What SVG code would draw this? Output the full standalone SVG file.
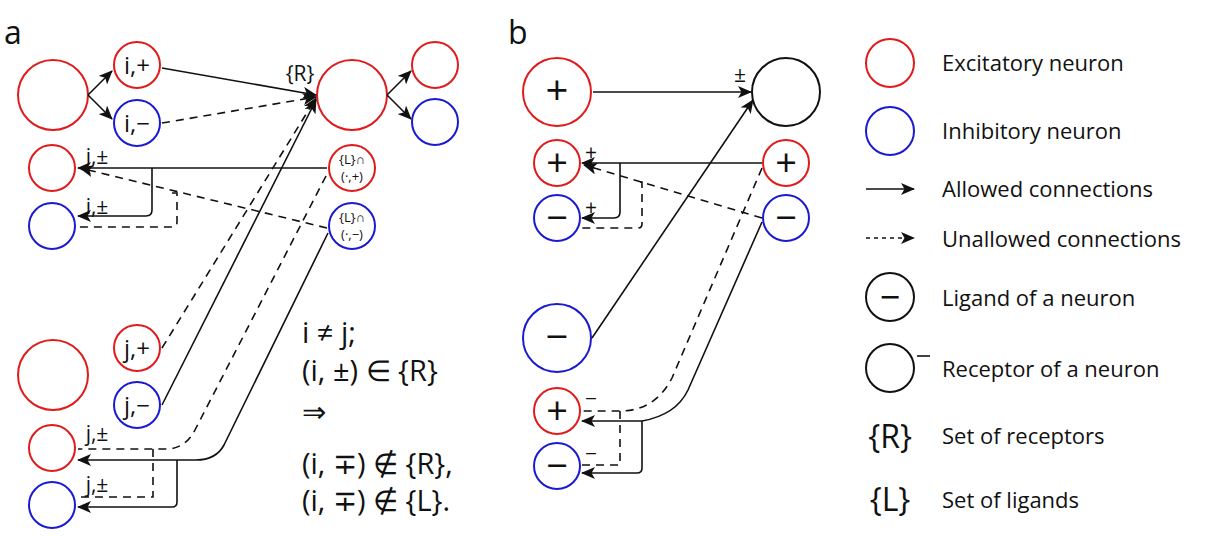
<svg xmlns="http://www.w3.org/2000/svg" width="1218" height="536" viewBox="0 0 1218 536">
<style>
text{font-family:"Open Sans","Noto Sans",sans-serif;fill:#111}
.e{fill:none;stroke:#e01b1b;stroke-width:2}
.i{fill:none;stroke:#1a1ad0;stroke-width:2}
.k{fill:none;stroke:#111;stroke-width:2}
.c{fill:none;stroke:#111;stroke-width:1.6}
.d{fill:none;stroke:#111;stroke-width:1.6;stroke-dasharray:8 6}
.n{font-size:24px}
.s{font-size:13px}
.lg{font-size:22px}
.f{font-size:29px}
.l{font-size:21px}
</style>
<defs>
<marker id="ah" viewBox="0 0 14 12" refX="13" refY="6" markerWidth="14" markerHeight="12" markerUnits="userSpaceOnUse" orient="auto">
<path d="M0,0 L14,6 L0,12 L3.5,6 Z" fill="#111"/>
</marker>
</defs>
<text x="4" y="44" font-size="32">a</text>
<text x="508" y="44" font-size="32">b</text>
<g id="a-nodes">
<g id="a1"><circle class="e" cx="53" cy="95" r="35"/></g>
<g id="aip"><circle class="e" cx="137" cy="65" r="23"/><text class="n" x="137" y="74" text-anchor="middle">i,+</text></g>
<g id="aim"><circle class="i" cx="137" cy="123" r="23"/><text class="n" x="137" y="132" text-anchor="middle">i,−</text></g>
<g id="a2"><circle class="e" cx="352" cy="95" r="35"/></g>
<g id="a2e"><circle class="e" cx="435" cy="65" r="23"/></g>
<g id="a2i"><circle class="i" cx="435" cy="122" r="23"/></g>
<g id="ale"><circle class="e" cx="52" cy="168" r="23"/></g>
<g id="ali"><circle class="i" cx="52" cy="226" r="23"/></g>
<g id="aLp"><circle class="e" cx="352" cy="168" r="23"/><text class="s" x="352" y="164" text-anchor="middle">{L}∩</text><text class="s" x="352" y="181" text-anchor="middle">(·,+)</text></g>
<g id="aLm"><circle class="i" cx="352" cy="226" r="23"/><text class="s" x="352" y="222" text-anchor="middle">{L}∩</text><text class="s" x="352" y="239" text-anchor="middle">(·,−)</text></g>
<g id="a3"><circle class="e" cx="53" cy="375" r="35"/></g>
<g id="ajp"><circle class="e" cx="137" cy="348" r="23"/><text class="n" x="137" y="357" text-anchor="middle">j,+</text></g>
<g id="ajm"><circle class="i" cx="137" cy="405" r="23"/><text class="n" x="137" y="414" text-anchor="middle">j,−</text></g>
<g id="ale2"><circle class="e" cx="52" cy="448" r="23"/></g>
<g id="ali2"><circle class="i" cx="52" cy="505" r="23"/></g>
</g>
<g id="b-nodes">
<g id="b1"><circle class="e" cx="557" cy="92" r="34"/><text x="557" y="105" font-size="40" text-anchor="middle">+</text></g>
<g id="b2"><circle class="k" cx="786" cy="92" r="34"/></g>
<g id="b3"><circle class="e" cx="557" cy="163" r="23"/><text x="557" y="176" font-size="38" text-anchor="middle">+</text></g>
<g id="b4"><circle class="i" cx="557" cy="218" r="23"/><text x="557" y="231" font-size="38" text-anchor="middle">−</text></g>
<g id="b5"><circle class="e" cx="786" cy="163" r="23"/><text x="786" y="176" font-size="38" text-anchor="middle">+</text></g>
<g id="b6"><circle class="i" cx="786" cy="218" r="23"/><text x="786" y="231" font-size="38" text-anchor="middle">−</text></g>
<g id="b7"><circle class="i" cx="557" cy="338" r="34"/><text x="557" y="351" font-size="40" text-anchor="middle">−</text></g>
<g id="b8"><circle class="e" cx="557" cy="411" r="23"/><text x="557" y="424" font-size="38" text-anchor="middle">+</text></g>
<g id="b9"><circle class="i" cx="557" cy="466" r="23"/><text x="557" y="479" font-size="38" text-anchor="middle">−</text></g>
</g>
<g id="connectors">
<path class="c" d="M88 95 L112 71" marker-end="url(#ah)"/>
<path class="c" d="M88 95 L112 119" marker-end="url(#ah)"/>
<path class="c" d="M387 95 L411 71" marker-end="url(#ah)"/>
<path class="c" d="M387 95 L411 119" marker-end="url(#ah)"/>
<path class="c" d="M162 68 L316 95" marker-end="url(#ah)"/>
<path class="d" d="M162 123 L316 97" marker-end="url(#ah)"/>
<path class="c" d="M327 168 L78 168" marker-end="url(#ah)"/>
<path class="c" d="M152 168 V210 Q152 216 146 216 H78" marker-end="url(#ah)"/>
<path class="d" d="M327 228 L80 168" marker-end="url(#ah)"/>
<path class="d" d="M172 193 H177 V222 Q177 227 172 227 H78"/>
<path class="d" d="M162 348 L316 98" marker-end="url(#ah)"/>
<path class="c" d="M162 405 L316 100" marker-end="url(#ah)"/>
<path class="d" d="M326 176 L196 428 Q186 449 166 449 H78"/>
<path class="c" d="M328 233 L224 445 Q216 460 196 460 H78" marker-end="url(#ah)"/>
<path class="c" d="M177 460 V502 Q177 507 172 507 H78" marker-end="url(#ah)"/>
<path class="d" d="M153 449 V497 H78"/>
<path class="c" d="M593 92 L751 92" marker-end="url(#ah)"/>
<path class="c" d="M762 163 L582 163" marker-end="url(#ah)"/>
<path class="c" d="M620 163 V212 Q620 218 614 218 H582" marker-end="url(#ah)"/>
<path class="d" d="M762 218 L584 165" marker-end="url(#ah)"/>
<path class="d" d="M640 182 H642 V224 Q642 228 638 228 H582"/>
<path class="c" d="M592 338 L753 100" marker-end="url(#ah)"/>
<path class="d" d="M762 168 L672 378 Q655 411 620 411 H582"/>
<path class="c" d="M762 222 L688 390 Q676 415 642 421 H582" marker-end="url(#ah)"/>
<path class="c" d="M642 421 V468 Q642 473 637 473 H582" marker-end="url(#ah)"/>
<path class="d" d="M620 411 V465 H582"/>
</g>
<g id="labels">
<text class="l" x="300" y="81" text-anchor="middle">{R}</text>
<text class="l" x="97" y="164" text-anchor="middle">i,±</text>
<text class="l" x="97" y="214" text-anchor="middle">i,±</text>
<text class="l" x="97" y="441" text-anchor="middle">j,±</text>
<text class="l" x="97" y="492" text-anchor="middle">j,±</text>
<text class="l" x="740" y="82" text-anchor="middle">±</text>
<text class="l" x="591" y="160" text-anchor="middle">+</text>
<text class="l" x="591" y="215" text-anchor="middle">+</text>
<text class="l" x="591" y="406" text-anchor="middle">−</text>
<text class="l" x="591" y="461" text-anchor="middle">−</text>
<text class="f" x="302" y="343">i ≠ j;</text>
<text class="f" x="302" y="381">(i, ±) ∈ {R}</text>
<text class="f" x="302" y="422">⇒</text>
<text class="f" x="302" y="474">(i, ∓) ∉ {R},</text>
<text class="f" x="302" y="511">(i, ∓) ∉ {L}.</text>
</g>
<g id="legend">
<circle class="e" cx="890" cy="63" r="24"/>
<text class="lg" x="942" y="71">Excitatory neuron</text>
<circle class="i" cx="890" cy="131" r="24"/>
<text class="lg" x="942" y="139">Inhibitory neuron</text>
<path class="c" d="M866 189 L914 189" marker-end="url(#ah)"/>
<text class="lg" x="942" y="197">Allowed connections</text>
<path class="c" d="M866 238 L914 238" stroke-dasharray="4 4" marker-end="url(#ah)"/>
<text class="lg" x="942" y="247">Unallowed connections</text>
<circle class="k" cx="890" cy="297" r="24"/>
<text x="890" y="310" font-size="36" text-anchor="middle">−</text>
<text class="lg" x="942" y="306">Ligand of a neuron</text>
<circle class="k" cx="890" cy="368" r="24"/>
<path class="c" d="M917 356 H930"/>
<text class="lg" x="942" y="377">Receptor of a neuron</text>
<text x="890" y="448" font-size="32" text-anchor="middle">{R}</text>
<text class="lg" x="942" y="444">Set of receptors</text>
<text x="890" y="511" font-size="32" text-anchor="middle">{L}</text>
<text class="lg" x="942" y="508">Set of ligands</text>
</g>
</svg>
